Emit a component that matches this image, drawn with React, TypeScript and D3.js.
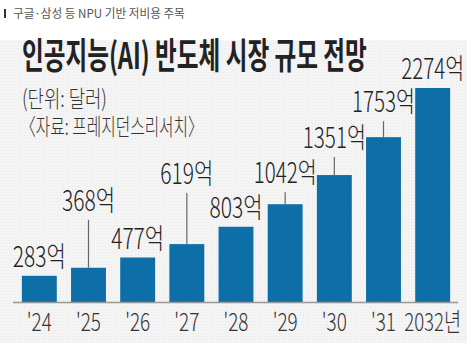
import React, { useEffect, useRef } from 'react';
import * as d3 from 'd3';

// AI semiconductor market forecast (unit: 억 달러)
const years = ["'24", "'25", "'26", "'27", "'28", "'29", "'30", "'31", '2032년'];
const values = [283, 368, 477, 619, 803, 1042, 1351, 1753, 2274];
// leader line length above each bar (0 = label sits right on the bar)
const leaders = [0, 48, 0, 51, 0, 12, 18, 16, 0];

const headline = '구글·삼성 등 NPU 기반 저비용 주목';
const title = '인공지능(AI) 반도체 시장 규모 전망';
const unitNote = '(단위: 달러)';
const sourceNote = '〈자료: 프레지던스리서치〉';

const FONT = "'Noto Sans CJK KR', 'Noto Sans', sans-serif";

// squeeze a text horizontally to a target width (the source uses a condensed face)
const fitText = (sel: any, x: number, y: number, target: number, anchor = 'start') => {
  sel.attr('x', 0).attr('y', 0).attr('text-anchor', anchor);
  const natural = (sel.node() as SVGTextElement).getComputedTextLength() || target;
  sel.attr('transform', `translate(${x},${y}) scale(${target / natural},1)`);
  return sel;
};

const App = () => {
  const svgRef = useRef<SVGSVGElement>(null);

  useEffect(() => {
    const svg = d3.select(svgRef.current);
    svg.selectAll('*').remove();

    const width = 474;
    const height = 353;
    const baseY = 302.5;

    // dotted paper background
    const defs = svg.append('defs');
    const pat = defs.append('pattern')
      .attr('id', 'dots')
      .attr('width', 3)
      .attr('height', 3)
      .attr('patternUnits', 'userSpaceOnUse');
    pat.append('rect').attr('width', 3).attr('height', 3).attr('fill', '#f4f4f4');
    pat.append('rect').attr('width', 1).attr('height', 1).attr('fill', '#e9e9e9');

    svg.append('rect').attr('width', width).attr('height', height).attr('fill', '#fff');
    svg.append('rect')
      .attr('x', 0).attr('y', 40)
      .attr('width', 467).attr('height', 303)
      .attr('fill', 'url(#dots)');

    // headline strip
    svg.append('rect').attr('x', 4).attr('y', 9).attr('width', 2).attr('height', 9).attr('fill', '#333');
    fitText(
      svg.append('text')
        .attr('font-family', FONT).attr('font-size', 12)
        .attr('fill', '#555')
        .text(headline),
      13, 17.5, 172);

    fitText(
      svg.append('text')
        .attr('font-family', FONT).attr('font-size', 36).attr('font-weight', 700)
        .attr('fill', '#222')
        .text(title),
      22, 69, 345);

    fitText(
      svg.append('text')
        .attr('font-family', FONT).attr('font-size', 23).attr('font-weight', 300)
        .attr('fill', '#333')
        .text(unitNote),
      22, 107, 85);

    fitText(
      svg.append('text')
        .attr('font-family', FONT).attr('font-size', 23).attr('font-weight', 300)
        .attr('fill', '#333')
        .text(sourceNote),
      20, 135, 184);

    const x = d3.scaleBand<string>()
      .domain(years)
      .range([15, 457])
      .paddingInner(0.29)
      .paddingOuter(0.14);

    const y = d3.scaleLinear()
      .domain([0, 2274])
      .range([baseY, 88]);

    const data = years.map((yr, i) => ({ yr, v: values[i], lead: leaders[i] }));

    svg.append('g')
      .selectAll('rect')
      .data(data)
      .enter().append('rect')
      .attr('x', d => x(d.yr)!)
      .attr('y', d => y(d.v))
      .attr('width', x.bandwidth())
      .attr('height', d => baseY - y(d.v))
      .attr('fill', '#0d6ea8');

    // axis baseline
    svg.append('line')
      .attr('x1', 13).attr('x2', 458)
      .attr('y1', baseY).attr('y2', baseY)
      .attr('stroke', '#999').attr('stroke-width', 1.5);

    const cx = (d: { yr: string }) => x(d.yr)! + x.bandwidth() / 2;

    // leader lines
    svg.append('g')
      .selectAll('line')
      .data(data.filter(d => d.lead > 0))
      .enter().append('line')
      .attr('x1', cx).attr('x2', cx)
      .attr('y1', d => y(d.v))
      .attr('y2', d => y(d.v) - d.lead)
      .attr('stroke', '#666').attr('stroke-width', 1.2);

    // value labels
    const vg = svg.append('g');
    data.forEach(d => {
      fitText(
        vg.append('text')
          .attr('font-family', FONT).attr('font-size', 28).attr('font-weight', 300)
          .attr('fill', '#222')
          .text(d.v + '억'),
        cx(d), y(d.v) - d.lead - 9, String(d.v).length * 10 + 23, 'middle');
    });

    // x tick labels
    const tg = svg.append('g');
    data.forEach(d => {
      fitText(
        tg.append('text')
          .attr('font-family', FONT).attr('font-size', 25).attr('font-weight', 300)
          .attr('fill', '#333')
          .text(d.yr),
        cx(d), 331, d.yr.length > 3 ? 57 : 25, 'middle');
    });
  }, []);

  return (
    <svg
      ref={svgRef}
      width="474"
      height="353"
      style={{ position: 'absolute', left: 0, top: 0 }}
    ></svg>
  );
};

export default App;
